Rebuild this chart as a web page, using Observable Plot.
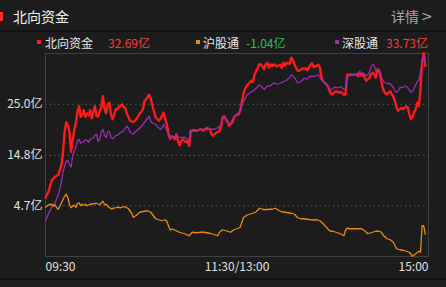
<!DOCTYPE html>
<html><head><meta charset="utf-8">
<script src="https://cdn.jsdelivr.net/npm/d3@7"></script>
<script src="https://cdn.jsdelivr.net/npm/@observablehq/plot@0.6"></script>
<style>
html,body{margin:0;padding:0;background:#1c1c1c;}
#wrap{position:relative;width:446px;height:287px;overflow:hidden;background:#1c1c1c;font-family:"Noto Sans CJK SC",sans-serif;}
.abs{position:absolute;white-space:nowrap;}
</style></head><body><div id="wrap"></div>
<script>
// ---- data ----
const title = "北向资金";
const detailText = "详情";
const seriesNames = ["北向资金", "沪股通", "深股通"];
const legendValues = [32.69, -1.04, 33.73];
const yTicks = [4.7, 14.8, 25.0];
const xTicks = [0, 120, 240];
const xLabels = ["09:30", "11:30/13:00", "15:00"];

const northT = [0,2,4,6,8,10,11,12,13,14,15,16,17,18,19,20,21,22,23,24,25,26,27,28,29,30,31,32,33,34,35,36,37,38,39,40,41,42,43,44,45,46,47,48,49,50,51,53,55,57,59,61,62,64,65,66,67,69,71,72,73,74,75,76,77,78,79,80,81,82,83,84,85,86,88,89,90,91,93,95,97,99,101,103,104,105,107,109,110,111,112,113,114,115,116,117,118,119,121,122,123,124,125,126,127,129,130,131,132,133,134,135,136,137,138,139,140,141,142,143,145,147,148,149,150,151,153,154,155,156,157,158,159,160,161,162,163,164,165,166,167,168,169,170,171,172,173,174,175,176,177,178,179,180,181,182,183,184,185,186,187,188,189,190,192,194,195,196,197,198,199,200,201,202,203,204,205,206,207,208,209,210,211,212,213,214,215,216,217,218,219,220,221,222,223,224,225,226,227,228,229,230,231,232,233,234,235,236,237,238];
const northV = [6.3,7.6,9.8,10.5,10.9,12.8,15.5,19.5,21.4,20.8,19.5,15.5,17.8,19.8,21.2,23.5,24.6,22.5,22.8,23.8,22.5,23.2,22.8,23.8,22.2,23.5,24.6,22.6,22.6,23.6,24.5,26.6,24.0,23.2,25.0,25.3,23.0,22.0,22.8,24.0,24.0,24.5,24.7,25.0,24.4,24.3,23.1,21.7,21.4,22.0,23.1,23.9,25.6,26.4,26.9,26.1,24.7,22.4,21.7,22.0,22.7,23.3,22.1,21.0,19.4,18.1,18.6,18.4,18.0,19.0,17.7,16.8,17.6,18.0,17.4,17.7,16.7,19.7,19.7,19.7,20.0,19.7,20.3,20.0,19.0,18.7,19.3,19.6,20.5,22.4,22.6,22.0,21.6,20.7,21.0,21.3,22.3,22.7,23.0,23.7,25.3,27.0,28.0,28.7,29.0,29.7,29.4,31.0,31.6,32.3,33.0,32.9,32.6,32.0,33.0,33.3,32.3,33.0,32.6,33.0,32.6,32.9,32.3,33.3,32.7,33.3,33.1,34.3,33.8,33.0,32.3,31.7,31.7,31.9,32.2,32.0,32.2,31.8,32.3,32.9,33.2,32.4,32.6,32.7,32.9,32.3,30.3,29.6,29.3,29.0,28.6,27.7,27.0,27.0,27.4,27.6,27.5,27.3,27.5,27.2,26.9,27.0,30.9,30.9,30.9,30.9,31.0,30.6,31.3,30.7,31.0,30.3,29.7,30.0,30.3,31.0,31.3,31.0,30.3,32.0,31.7,30.5,28.6,27.7,27.2,27.0,27.3,27.6,27.0,26.5,25.6,24.3,23.7,24.0,24.3,24.0,24.3,24.6,24.4,23.0,22.0,22.5,23.4,24.0,25.3,24.6,28.0,33.5,35.2,32.69];

const szT = [0,2,4,6,8,9,10,11,12,13,14,15,16,17,18,19,20,21,22,23,24,25,26,27,28,29,30,31,32,33,34,35,36,37,38,39,40,41,42,43,44,45,47,49,50,51,52,53,55,57,59,61,63,65,66,67,69,71,72,73,74,75,76,77,78,79,81,83,85,87,89,90,91,93,95,97,100,103,106,108,110,111,112,114,115,116,118,120,122,123,124,125,126,128,130,132,134,135,137,139,141,143,145,147,149,151,153,154,156,158,160,162,164,165,167,169,171,172,173,174,175,176,177,178,179,181,183,185,186,188,189,190,192,194,196,197,198,199,200,201,203,204,205,206,207,208,209,210,211,212,214,216,217,218,219,220,221,222,224,226,227,228,229,230,231,232,233,234,235,236,237,238];
const szV = [1.7,3.2,4.5,5.3,6.9,8.0,9.5,11.5,12.6,13.6,13.8,13.0,12.4,14.6,15.6,16.4,17.6,18.0,17.2,17.4,17.5,17.9,17.8,17.4,18.0,18.1,18.3,18.8,19.0,17.6,18.0,19.5,20.0,18.8,18.3,19.5,19.6,18.4,18.1,18.4,18.7,18.8,19.3,19.7,20.2,20.6,20.2,19.4,19.0,19.7,20.2,20.9,21.8,22.6,21.6,21.2,21.0,20.3,20.0,20.3,21.0,20.4,19.8,18.8,18.0,18.3,18.6,18.5,18.3,18.4,18.0,17.7,19.7,20.0,19.7,20.0,20.0,20.0,20.0,20.3,20.8,22.4,22.6,21.6,21.0,21.3,22.3,23.0,23.6,24.9,25.6,26.0,26.8,27.3,27.6,28.2,28.9,28.6,28.0,28.6,28.7,29.3,29.0,29.2,29.5,29.8,30.3,30.9,30.3,29.3,29.5,30.2,30.0,30.5,30.6,30.6,30.9,30.3,29.9,29.6,29.3,29.0,28.6,28.0,27.9,28.4,28.3,28.5,28.2,27.9,30.6,30.6,30.9,30.8,31.3,31.6,31.0,31.3,31.0,30.7,31.3,32.5,33.0,32.7,31.7,32.0,32.0,31.2,30.0,29.4,29.2,29.1,28.7,28.3,27.7,27.4,27.7,28.3,28.4,28.6,28.3,27.8,27.4,27.6,28.2,28.9,29.5,29.9,31.5,33.5,34.8,33.73];

const shT = [0,2,4,5,6,7,8,9,10,11,12,13,14,15,16,17,18,19,20,21,22,23,24,25,26,28,30,32,34,35,36,37,38,39,41,43,45,47,49,50,52,54,55,57,59,62,64,66,69,71,73,75,76,78,80,82,84,86,88,90,92,95,97,99,101,103,105,107,108,109,111,113,115,116,118,120,122,124,126,128,130,132,134,136,138,140,142,144,146,148,150,152,154,156,158,160,162,164,166,168,170,172,174,176,178,180,182,184,186,187,188,189,191,194,196,198,200,202,204,205,207,209,210,212,213,214,216,218,220,222,224,226,228,229,230,232,234,235,236,237,238];
const shV = [4.4,4.9,5.0,4.6,4.9,4.3,4.0,4.6,5.3,6.0,6.6,7.0,6.3,5.0,4.3,4.6,4.8,4.4,5.2,5.3,4.7,5.0,4.8,5.0,4.7,5.0,5.1,5.2,4.9,5.3,5.6,4.9,5.0,4.6,4.1,4.2,4.4,4.3,4.5,4.5,4.1,3.2,2.4,2.8,3.4,3.6,3.7,3.4,2.1,1.9,1.7,1.9,1.6,-0.1,0.0,-0.3,-0.6,-0.8,-1.0,-1.3,-0.6,-0.7,-0.6,-0.6,-0.7,-0.8,-1.0,-1.2,-1.3,-0.6,-0.1,-0.3,-0.5,-0.6,-0.1,0.1,0.4,2.3,2.8,3.0,3.2,3.5,4.2,4.0,3.9,4.0,4.0,4.2,3.8,3.5,3.4,3.3,3.2,3.0,2.3,2.1,2.1,2.0,1.9,1.85,1.9,1.7,1.1,0.4,-0.3,-0.4,-0.6,-0.8,-1.1,-1.3,-0.2,0.2,0.1,0.1,0.1,0.1,-0.3,-0.9,-0.7,-0.6,-0.4,-0.4,-0.5,-1.3,-1.6,-1.9,-2.1,-2.6,-3.9,-4.1,-4.2,-4.4,-4.6,-5.0,-5.4,-4.9,-4.4,-4.6,0.7,0.7,-1.04];

// ---- styles (kept apart from data) ----
const lineColors = ["#ff1a1a", "#e8890f", "#9a2ab0"];
const valueColor = v => v >= 0 ? "#ff3b3b" : "#22c35b";
const legendX = [[37, 45, 108], [196, 203, 246], [335, 342, 386]];

const wrap = document.getElementById("wrap");
function addDiv(style, text) {
  const d = document.createElement("div");
  d.className = "abs";
  d.setAttribute("style", style);
  if (text !== undefined) d.textContent = text;
  wrap.appendChild(d);
  return d;
}
// header
addDiv("left:0;top:12px;width:3px;height:9px;background:#ff3030");
addDiv("left:13px;top:5px;font-size:14px;line-height:22px;color:#f2f2f2", title);
addDiv("left:391px;top:5px;font-size:14px;line-height:22px;color:#a6a6a6", detailText);
addDiv("left:421px;top:5px;font-size:14px;line-height:22px;color:#a6a6a6;font-family:'DejaVu Sans'", "\u276F".replace("\u276F", ">"));
addDiv("left:0;top:30px;width:446px;height:2px;background:#121212");
// legend
seriesNames.forEach((name, i) => {
  const [sx, tx, vx] = legendX[i];
  addDiv(`left:${sx}px;top:40px;width:4px;height:4px;background:${lineColors[i]}`);
  addDiv(`left:${tx}px;top:35px;font-size:12px;line-height:15px;color:#e6e6e6`, name);
  addDiv(`left:${vx}px;top:35px;font-size:12px;line-height:15px;color:${valueColor(legendValues[i])}`, legendValues[i].toFixed(2) + "亿");
});
// bottom band
addDiv("left:0;top:278px;width:446px;height:2px;background:#111");
addDiv("left:0;top:280px;width:446px;height:7px;background:#202020");

const north = northT.map((t, i) => ({t, v: northV[i]}));
const sz = szT.map((t, i) => ({t, v: szV[i]}));
const sh = shT.map((t, i) => ({t, v: shV[i]}));
const xAxis = xTicks.map((t, i) => ({t, label: xLabels[i]}));

const chart = Plot.plot({
  width: 446, height: 241,
  marginLeft: 45, marginRight: 18, marginTop: 7, marginBottom: 31,
  style: {background: "transparent", color: "#dcdcdc", fontFamily: '"Noto Sans CJK SC", sans-serif', fontSize: "12px"},
  x: {domain: [0, 240], axis: null},
  y: {domain: [-5.45, 35.15], axis: null},
  marks: [
    Plot.gridY(yTicks, {stroke: "#5a5a5a", strokeOpacity: 1, strokeDasharray: "1.5,3"}),
    Plot.frame({stroke: "#404040"}),
    Plot.line(north, {x: "t", y: "v", stroke: lineColors[0], strokeWidth: 2.4}),
    Plot.line(sz, {x: "t", y: "v", stroke: lineColors[2], strokeWidth: 1.3}),
    Plot.line(sh, {x: "t", y: "v", stroke: lineColors[1], strokeWidth: 1.3}),
    Plot.axisY(yTicks, {anchor: "left", tickSize: 0, tickPadding: 3, label: null, tickFormat: d => d.toFixed(1) + "亿", fill: "#e0e0e0"}),
    Plot.text(xAxis, {filter: (d, i) => i === 0, x: "t", text: "label", frameAnchor: "bottom", dy: 14, textAnchor: "start", fill: "#e0e0e0"}),
    Plot.text(xAxis, {filter: (d, i) => i === 1, x: "t", text: "label", frameAnchor: "bottom", dy: 14, textAnchor: "middle", fill: "#e0e0e0"}),
    Plot.text(xAxis, {filter: (d, i) => i === 2, x: "t", text: "label", frameAnchor: "bottom", dy: 14, textAnchor: "end", fill: "#e0e0e0"})
  ]
});
const holder = addDiv("left:0;top:46px");
holder.appendChild(chart);
</script>
</body></html>
